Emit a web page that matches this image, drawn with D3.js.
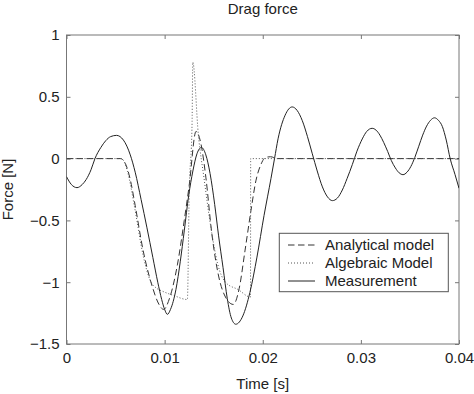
<!DOCTYPE html>
<html>
<head>
<meta charset="utf-8">
<script src="https://cdn.jsdelivr.net/npm/d3@7"></script>
<style>
  body { margin: 0; background: #fff; }
  svg text { font-family: "Liberation Sans", Arial, sans-serif; fill: #222; }
</style>
</head>
<body>
<svg id="chart" width="474" height="394"></svg>
<script>
// drag force: measurement vs the two models, time in s, force in N

var xTicks = [0, 0.01, 0.02, 0.03, 0.04];
var yTicks = [1, 0.5, 0, -0.5, -1, -1.5];

var measurementT = [0, 0.0005, 0.00107, 0.0016, 0.002, 0.0025, 0.0029, 0.0035, 0.004, 0.0045, 0.0051,
  0.0058, 0.0065, 0.007, 0.0076, 0.0082, 0.0088, 0.0093, 0.0097, 0.01, 0.01028, 0.0106,
  0.01115, 0.0116, 0.012, 0.01245, 0.01288, 0.0133, 0.01375,
  0.0142, 0.01463, 0.0151, 0.0155, 0.01595, 0.01638, 0.0168, 0.01725,
  0.01797, 0.01869, 0.01941, 0.02013, 0.02084, 0.0212, 0.02156, 0.02228, 0.023,
  0.0235, 0.02403, 0.02455, 0.02505, 0.02555, 0.02608, 0.0266, 0.0271,
  0.0276, 0.02811, 0.0286, 0.02913, 0.0296, 0.03014, 0.0306, 0.03115,
  0.03155, 0.03194, 0.03233, 0.03273, 0.0331, 0.03351, 0.0339, 0.0343,
  0.0347, 0.0351, 0.0355, 0.0359, 0.0363, 0.0367, 0.0371, 0.0375,
  0.0379, 0.0383, 0.0387, 0.0391, 0.0396, 0.04];
var measurementV = [-0.146, -0.21, -0.235, -0.21, -0.17, -0.09, 0, 0.09, 0.145, 0.178, 0.188,
  0.15, 0.03, -0.11, -0.33, -0.56, -0.8, -1.0, -1.14, -1.22, -1.26, -1.22,
  -1.06, -0.83, -0.585, -0.3, -0.1, 0.04, 0.09,
  0.03, -0.12, -0.37, -0.625, -0.88, -1.13, -1.29, -1.34,
  -1.273, -1.083, -0.797, -0.461, -0.16, 0.0, 0.16, 0.351, 0.418,
  0.39, 0.307, 0.18, 0.039, -0.1, -0.229, -0.31, -0.34,
  -0.32, -0.254, -0.16, -0.048, 0.06, 0.159, 0.22, 0.245,
  0.23, 0.19, 0.13, 0.058, -0.015, -0.075, -0.115, -0.13,
  -0.11, -0.063, 0.01, 0.1, 0.19, 0.263, 0.31, 0.33,
  0.31, 0.26, 0.15, 0.0, -0.13, -0.24];

var analyticalT = [0, 0.0055, 0.006, 0.0065, 0.007, 0.0078, 0.0088, 0.0093, 0.0099, 0.0105, 0.0113,
  0.012, 0.0125, 0.0132, 0.0137, 0.0142, 0.0148, 0.0155, 0.0162, 0.017, 0.0176, 0.0182,
  0.0188, 0.0193, 0.0198, 0.0203, 0.0208, 0.0215, 0.04];
var analyticalV = [0, 0, -0.04, -0.17, -0.38, -0.74, -1.05, -1.16, -1.22, -1.13, -0.86,
  -0.5, -0.22, 0.22, 0.12, -0.15, -0.6, -0.95, -1.12, -1.18, -1.05, -0.74,
  -0.42, -0.18, -0.05, 0.01, 0.015, 0, 0];

var algebraicT = [0, 0.0056, 0.0062, 0.007, 0.0078, 0.0085, 0.0092, 0.0097, 0.011, 0.0123,
  0.01232, 0.0125, 0.0128, 0.01287, 0.01344, 0.014, 0.0147, 0.0154, 0.0162, 0.0175, 0.01875,
  0.01877, 0.04];
var algebraicV = [0, 0, -0.1, -0.42, -0.78, -0.98, -1.05, -1.07, -1.11, -1.14,
  -1.14, -0.3, 0.3, 0.78, 0.19, -0.15, -0.55, -0.85, -1.0, -1.06, -1.12,
  0, 0];

var seriesNames = ["Analytical model", "Algebraic Model", "Measurement"];

var margin = {top: 35, right: 15, bottom: 50, left: 66.5};
var W = 474, H = 394;
var innerW = W - margin.left - margin.right;
var innerH = H - margin.top - margin.bottom;

var svg = d3.select("#chart");
var g = svg.append("g").attr("transform", "translate(" + margin.left + "," + margin.top + ")");

var x = d3.scaleLinear().domain([0, 0.04]).range([0, innerW]);
var y = d3.scaleLinear().domain([-1.5, 1]).range([innerH, 0]);

var fmt = d3.format("~g");

// axes with inward ticks on all four sides
var xAx = g.append("g").attr("transform", "translate(0," + innerH + ")")
  .call(d3.axisBottom(x).tickValues(xTicks).tickSize(-4).tickPadding(8).tickFormat(fmt));
var yAx = g.append("g")
  .call(d3.axisLeft(y).tickValues(yTicks).tickSize(-4).tickPadding(7).tickFormat(fmt));
var xTop = g.append("g").call(d3.axisTop(x).tickValues(xTicks).tickSize(-4).tickFormat(""));
var yRight = g.append("g").attr("transform", "translate(" + innerW + ",0)")
  .call(d3.axisRight(y).tickValues(yTicks).tickSize(-4).tickFormat(""));

[xAx, yAx, xTop, yRight].forEach(function(a){
  a.select(".domain").remove();
  a.selectAll(".tick line").attr("stroke", "#777");
  a.selectAll("text").style("font-size", "15px").attr("fill", "#222");
});

g.append("rect")
  .attr("x", 0).attr("y", 0)
  .attr("width", innerW).attr("height", innerH)
  .attr("fill", "none").attr("stroke", "#777").attr("stroke-width", 1);

var line = d3.line()
  .x(d => x(d[0]))
  .y(d => y(d[1]))
  .curve(d3.curveMonotoneX);

function pairs(ts, vs){ return ts.map((t,i) => [t, vs[i]]); }

var styles = [
  {data: pairs(analyticalT, analyticalV), dash: "6.5,3.5", color: "#333"},
  {data: pairs(algebraicT, algebraicV), dash: "1,2", color: "#555"},
  {data: pairs(measurementT, measurementV), dash: null, color: "#222"}
];

g.append("clipPath").attr("id", "plotclip").append("rect")
  .attr("width", innerW).attr("height", innerH);

g.append("g").attr("clip-path", "url(#plotclip)")
  .selectAll("path").data(styles).join("path")
  .attr("d", d => line(d.data))
  .attr("fill", "none")
  .attr("stroke", d => d.color)
  .attr("stroke-width", 1)
  .attr("stroke-dasharray", d => d.dash);

// legend
var legend = g.append("g").attr("transform", "translate(" + (279.3 - margin.left) + "," + (233.3 - margin.top) + ")");
legend.append("rect")
  .attr("width", 169).attr("height", 58.4)
  .attr("fill", "#fff").attr("stroke", "#555").attr("stroke-width", 1);
legend.selectAll("line").data(styles).join("line")
  .attr("x1", 8.7).attr("x2", 35.7)
  .attr("y1", (d,i) => 11.7 + i*18)
  .attr("y2", (d,i) => 11.7 + i*18)
  .attr("stroke", d => d.color)
  .attr("stroke-width", 1)
  .attr("stroke-dasharray", d => d.dash);
legend.selectAll("text").data(seriesNames).join("text")
  .attr("x", 45.7)
  .attr("y", (d,i) => 17.2 + i*18)
  .style("font-size", "15px")
  .text(d => d);

// title and axis labels
svg.append("text")
  .attr("x", margin.left + innerW/2).attr("y", 14)
  .attr("text-anchor", "middle").style("font-size", "15px")
  .text("Drag force");
svg.append("text")
  .attr("x", margin.left + innerW/2).attr("y", 389)
  .attr("text-anchor", "middle").style("font-size", "15px")
  .text("Time [s]");
svg.append("text")
  .attr("transform", "translate(13," + (margin.top + innerH/2) + ") rotate(-90)")
  .attr("text-anchor", "middle").style("font-size", "15px")
  .text("Force [N]");
</script>
</body>
</html>
